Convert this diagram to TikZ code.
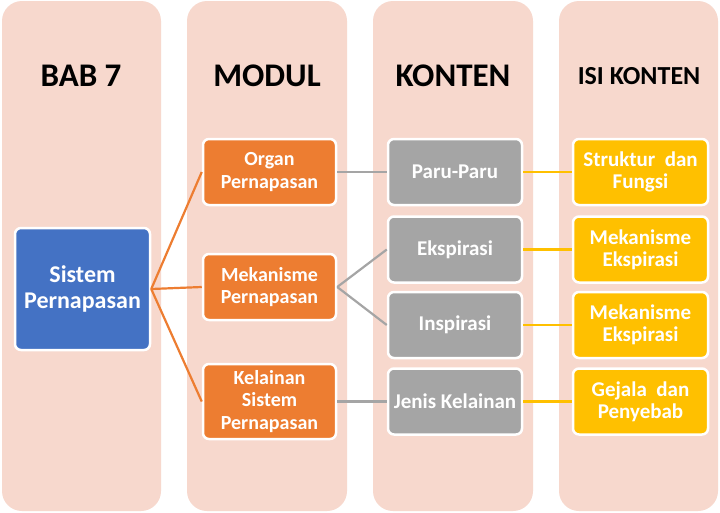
\documentclass[tikz,border=0pt]{standalone}
\usepackage{fontspec}
\setmainfont{Carlito}
\definecolor{colbg}{HTML}{F7D8CD}
\definecolor{cblue}{HTML}{4472C4}
\definecolor{corange}{HTML}{ED7D31}
\definecolor{cgray}{HTML}{A5A5A5}
\definecolor{cgold}{HTML}{FFC000}
\tikzset{
  colrect/.style={fill=colbg, draw=none, rounded corners=20pt},
  head/.style={font=\bfseries\fontsize{33}{36}\selectfont, text=black},
  box/.style={draw=white, line width=2.5pt, rounded corners=6pt, text=white, align=center, inner sep=0pt},
  bluebox/.style={box, fill=cblue, minimum width=135pt, minimum height=122pt, font=\bfseries\fontsize{24}{25.7}\selectfont},
  orbox/.style={box, fill=corange, minimum width=133pt, minimum height=66pt, font=\bfseries\fontsize{20}{22.5}\selectfont},
  grbox/.style={box, fill=cgray, minimum width=134pt, minimum height=66pt, font=\bfseries\fontsize{21}{22}\selectfont},
  yebox/.style={box, fill=cgold, minimum width=135pt, minimum height=66pt, font=\bfseries\fontsize{21}{22}\selectfont},
  orline/.style={draw=corange, line width=2.2pt},
  grline/.style={draw=cgray, line width=2.2pt},
  yeline/.style={draw=cgold, line width=2.2pt}
}
\begin{document}
\begin{tikzpicture}[x=1pt,y=-1pt]
\useasboundingbox (0,0) rectangle (720,512);
\fill[white] (0,0) rectangle (720,512);
\fill[colrect] (2,1) rectangle (161,511);
\fill[colrect] (187,1) rectangle (347,511);
\fill[colrect] (373,1) rectangle (533,511);
\fill[colrect] (559,1) rectangle (718,511);
\node[head] (h1) at (81,76) {BAB 7};
\node[head] (h2) at (267,76) {MODUL};
\node[head] (h3) at (453,76) {KONTEN};
\node[head, font=\bfseries\fontsize{26}{30}\selectfont] (h4) at (639,76) {ISI KONTEN};
\node[bluebox] (sp) at (82.5,289) {Sistem\\Pernapasan};
\node[orbox] (op) at (269.5,172) {Organ\\Pernapasan};
\node[orbox] (mp) at (269.5,287) {Mekanisme\\Pernapasan};
\node[orbox, minimum height=75pt] (ks) at (269.5,401.5) {Kelainan\\Sistem\\Pernapasan};
\node[grbox] (pp) at (455,172) {Paru-Paru};
\node[grbox] (ek) at (455,249.5) {Ekspirasi};
\node[grbox] (in) at (455,325) {Inspirasi};
\node[grbox] (jk) at (455,401.5) {Jenis Kelainan};
\node[yebox] (sf) at (640.5,172) {Struktur\ \ dan\\Fungsi};
\node[yebox] (me) at (640.5,249.5) {Mekanisme\\Ekspirasi};
\node[yebox] (mi) at (640.5,325) {Mekanisme\\Ekspirasi};
\node[yebox] (gp) at (640.5,401.5) {Gejala\ \ dan\\Penyebab};
\draw[orline] (sp.east) -- (op.west);
\draw[orline] (sp.east) -- (mp.west);
\draw[orline] (sp.east) -- (ks.west);
\draw[grline] (op.east) -- (pp.west);
\draw[grline] (mp.east) -- (ek.west);
\draw[grline] (mp.east) -- (in.west);
\draw[grline] (ks.east) -- (jk.west);
\draw[yeline] (pp.east) -- (sf.west);
\draw[yeline] (ek.east) -- (me.west);
\draw[yeline] (in.east) -- (mi.west);
\draw[yeline] (jk.east) -- (gp.west);
\end{tikzpicture}
\end{document}
